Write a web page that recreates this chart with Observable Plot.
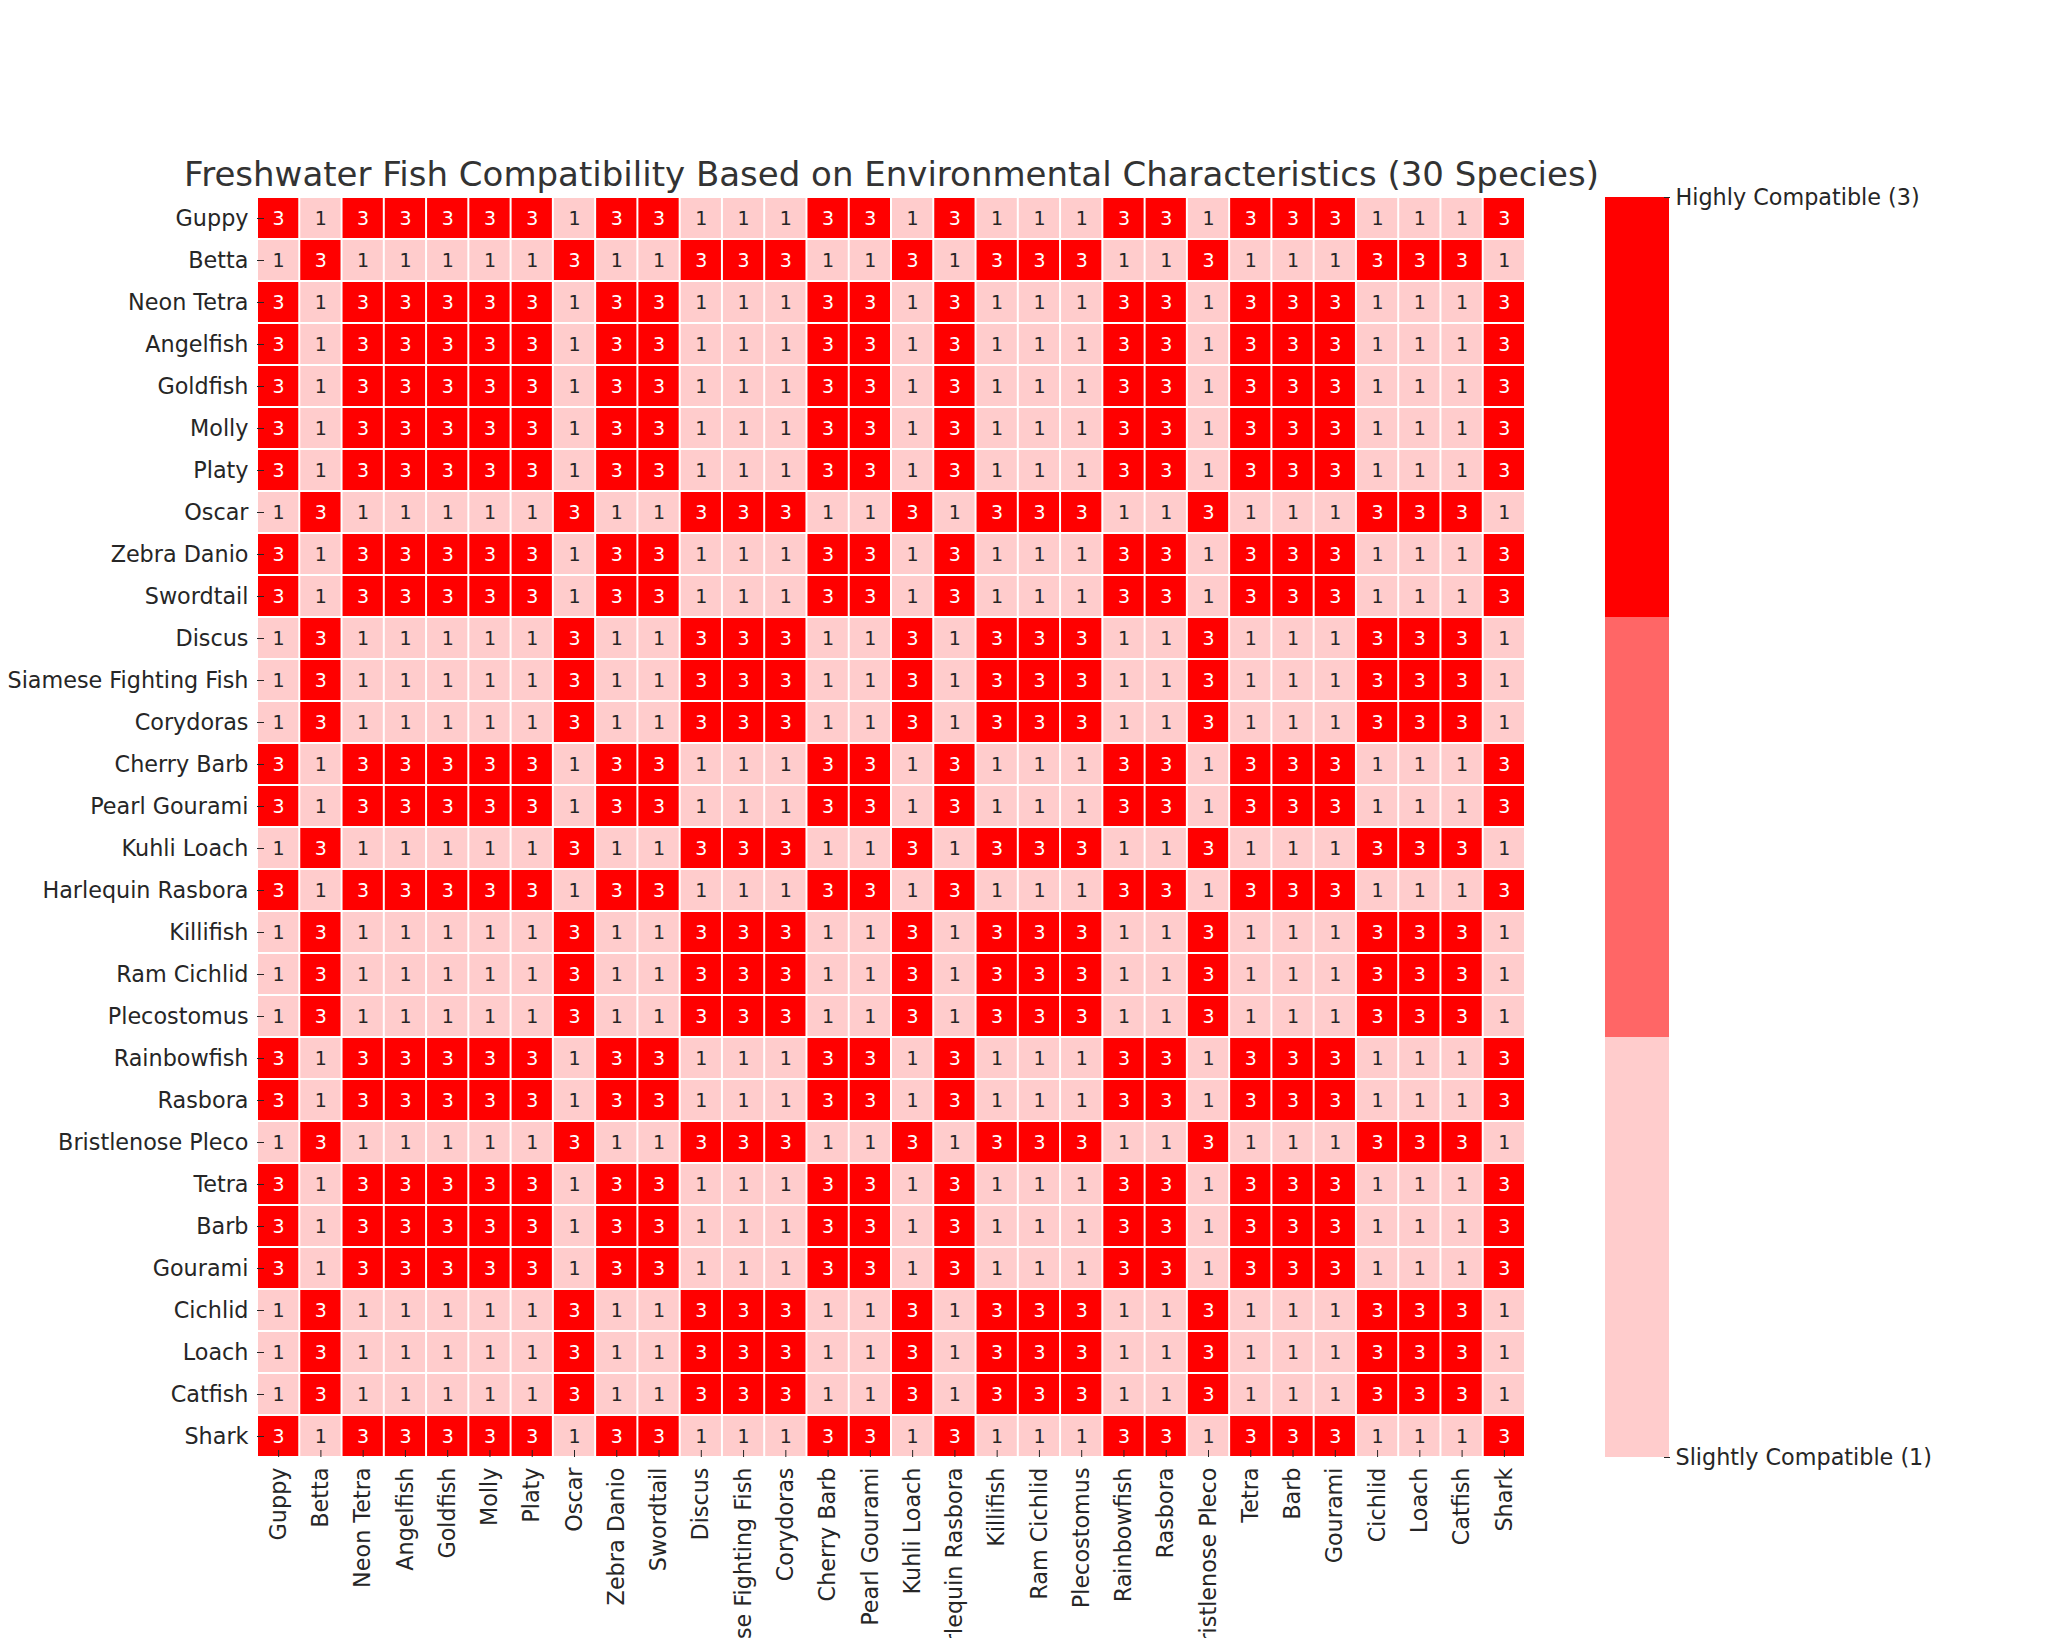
<!DOCTYPE html>
<html>
<head>
<meta charset="utf-8">
<script src="https://cdn.jsdelivr.net/npm/d3@7"></script>
<script src="https://cdn.jsdelivr.net/npm/@observablehq/plot@0.6"></script>
<style>
  html, body { margin: 0; padding: 0; background: #fff; }
  #wrap { position: relative; width: 2048px; height: 1638px; overflow: hidden; }
  #wrap svg { position: absolute; left: 0; top: 0; }
</style>
</head>
<body>
<div id="wrap"></div>
<script>
const titleText = "Freshwater Fish Compatibility Based on Environmental Characteristics (30 Species)";

const species = [
  "Guppy", "Betta", "Neon Tetra", "Angelfish", "Goldfish", "Molly", "Platy", "Oscar",
  "Zebra Danio", "Swordtail", "Discus", "Siamese Fighting Fish", "Corydoras", "Cherry Barb",
  "Pearl Gourami", "Kuhli Loach", "Harlequin Rasbora", "Killifish", "Ram Cichlid", "Plecostomus",
  "Rainbowfish", "Rasbora", "Bristlenose Pleco", "Tetra", "Barb", "Gourami", "Cichlid",
  "Loach", "Catfish", "Shark"
];

// compatibility matrix (rows follow species order)
const compatibility = [
  [3,1,3,3,3,3,3,1,3,3,1,1,1,3,3,1,3,1,1,1,3,3,1,3,3,3,1,1,1,3], // Guppy
  [1,3,1,1,1,1,1,3,1,1,3,3,3,1,1,3,1,3,3,3,1,1,3,1,1,1,3,3,3,1], // Betta
  [3,1,3,3,3,3,3,1,3,3,1,1,1,3,3,1,3,1,1,1,3,3,1,3,3,3,1,1,1,3], // Neon Tetra
  [3,1,3,3,3,3,3,1,3,3,1,1,1,3,3,1,3,1,1,1,3,3,1,3,3,3,1,1,1,3], // Angelfish
  [3,1,3,3,3,3,3,1,3,3,1,1,1,3,3,1,3,1,1,1,3,3,1,3,3,3,1,1,1,3], // Goldfish
  [3,1,3,3,3,3,3,1,3,3,1,1,1,3,3,1,3,1,1,1,3,3,1,3,3,3,1,1,1,3], // Molly
  [3,1,3,3,3,3,3,1,3,3,1,1,1,3,3,1,3,1,1,1,3,3,1,3,3,3,1,1,1,3], // Platy
  [1,3,1,1,1,1,1,3,1,1,3,3,3,1,1,3,1,3,3,3,1,1,3,1,1,1,3,3,3,1], // Oscar
  [3,1,3,3,3,3,3,1,3,3,1,1,1,3,3,1,3,1,1,1,3,3,1,3,3,3,1,1,1,3], // Zebra Danio
  [3,1,3,3,3,3,3,1,3,3,1,1,1,3,3,1,3,1,1,1,3,3,1,3,3,3,1,1,1,3], // Swordtail
  [1,3,1,1,1,1,1,3,1,1,3,3,3,1,1,3,1,3,3,3,1,1,3,1,1,1,3,3,3,1], // Discus
  [1,3,1,1,1,1,1,3,1,1,3,3,3,1,1,3,1,3,3,3,1,1,3,1,1,1,3,3,3,1], // Siamese Fighting Fish
  [1,3,1,1,1,1,1,3,1,1,3,3,3,1,1,3,1,3,3,3,1,1,3,1,1,1,3,3,3,1], // Corydoras
  [3,1,3,3,3,3,3,1,3,3,1,1,1,3,3,1,3,1,1,1,3,3,1,3,3,3,1,1,1,3], // Cherry Barb
  [3,1,3,3,3,3,3,1,3,3,1,1,1,3,3,1,3,1,1,1,3,3,1,3,3,3,1,1,1,3], // Pearl Gourami
  [1,3,1,1,1,1,1,3,1,1,3,3,3,1,1,3,1,3,3,3,1,1,3,1,1,1,3,3,3,1], // Kuhli Loach
  [3,1,3,3,3,3,3,1,3,3,1,1,1,3,3,1,3,1,1,1,3,3,1,3,3,3,1,1,1,3], // Harlequin Rasbora
  [1,3,1,1,1,1,1,3,1,1,3,3,3,1,1,3,1,3,3,3,1,1,3,1,1,1,3,3,3,1], // Killifish
  [1,3,1,1,1,1,1,3,1,1,3,3,3,1,1,3,1,3,3,3,1,1,3,1,1,1,3,3,3,1], // Ram Cichlid
  [1,3,1,1,1,1,1,3,1,1,3,3,3,1,1,3,1,3,3,3,1,1,3,1,1,1,3,3,3,1], // Plecostomus
  [3,1,3,3,3,3,3,1,3,3,1,1,1,3,3,1,3,1,1,1,3,3,1,3,3,3,1,1,1,3], // Rainbowfish
  [3,1,3,3,3,3,3,1,3,3,1,1,1,3,3,1,3,1,1,1,3,3,1,3,3,3,1,1,1,3], // Rasbora
  [1,3,1,1,1,1,1,3,1,1,3,3,3,1,1,3,1,3,3,3,1,1,3,1,1,1,3,3,3,1], // Bristlenose Pleco
  [3,1,3,3,3,3,3,1,3,3,1,1,1,3,3,1,3,1,1,1,3,3,1,3,3,3,1,1,1,3], // Tetra
  [3,1,3,3,3,3,3,1,3,3,1,1,1,3,3,1,3,1,1,1,3,3,1,3,3,3,1,1,1,3], // Barb
  [3,1,3,3,3,3,3,1,3,3,1,1,1,3,3,1,3,1,1,1,3,3,1,3,3,3,1,1,1,3], // Gourami
  [1,3,1,1,1,1,1,3,1,1,3,3,3,1,1,3,1,3,3,3,1,1,3,1,1,1,3,3,3,1], // Cichlid
  [1,3,1,1,1,1,1,3,1,1,3,3,3,1,1,3,1,3,3,3,1,1,3,1,1,1,3,3,3,1], // Loach
  [1,3,1,1,1,1,1,3,1,1,3,3,3,1,1,3,1,3,3,3,1,1,3,1,1,1,3,3,3,1], // Catfish
  [3,1,3,3,3,3,3,1,3,3,1,1,1,3,3,1,3,1,1,1,3,3,1,3,3,3,1,1,1,3]  // Shark
];

const cmapColors = ["#ffcccc", "#ff6666", "#ff0000"];
const cmapEdges = [1, 5/3, 7/3, 3];
const colorbarTicks = [1, 3];
const colorbarLabels = ["Slightly Compatible (1)", "Highly Compatible (3)"];

const cells = [];
compatibility.forEach((row, i) => row.forEach((v, j) => cells.push({row: species[i], col: species[j], value: v})));

const bands = cmapColors.map((c, k) => ({lo: cmapEdges[k], hi: cmapEdges[k + 1], color: c}));

const FONT = "DejaVu Sans, Liberation Sans, sans-serif";
const INK = "#262626";
const TICKFS = 22.3;

const main = Plot.plot({
  width: 2048,
  height: 1638,
  marginLeft: 257,
  marginRight: 523,
  marginTop: 197,
  marginBottom: 181,
  style: {fontFamily: FONT, fontSize: "22px", color: INK, background: "transparent", overflow: "visible"},
  x: {domain: species, padding: 0, round: false, label: null},
  y: {domain: species, padding: 0, round: false, label: null},
  color: {type: "threshold", domain: [5/3, 7/3], range: cmapColors},
  marks: [
    Plot.cell(cells, {x: "col", y: "row", fill: "value", inset: 1}),
    Plot.text(cells, {filter: d => d.value === 3, x: "col", y: "row", text: d => String(d.value), fill: "white", fontSize: 19}),
    Plot.text(cells, {filter: d => d.value !== 3, x: "col", y: "row", text: d => String(d.value), fill: INK, fontSize: 19}),
    Plot.axisX({anchor: "bottom", dy: -7, tickRotate: -90, tickSize: 7, tickPadding: 10, fontSize: TICKFS, label: null, stroke: INK, fill: INK}),
    Plot.axisY({anchor: "left", dx: 7, tickSize: 7, tickPadding: 9, fontSize: TICKFS, label: null, stroke: INK, fill: INK}),
    Plot.text([titleText], {frameAnchor: "top", dy: -12, lineAnchor: "bottom", fontSize: 34, fill: "#333333", text: d => d})
  ]
});

const bar = Plot.plot({
  width: 2048,
  height: 1638,
  marginLeft: 1605,
  marginRight: 379,
  marginTop: 197,
  marginBottom: 181,
  style: {fontFamily: FONT, fontSize: "22px", color: INK, background: "transparent", overflow: "visible"},
  y: {domain: [1, 3], label: null},
  color: {type: "identity"},
  marks: [
    Plot.barY(bands, {y1: "lo", y2: "hi", fill: "color"}),
    Plot.axisY({anchor: "right", dx: -6, ticks: colorbarTicks, tickFormat: d => colorbarLabels[colorbarTicks.indexOf(d)], tickSize: 6, tickPadding: 6, fontSize: TICKFS, label: null, stroke: INK, fill: INK})
  ]
});

const wrap = document.getElementById("wrap");
wrap.appendChild(main);
wrap.appendChild(bar);
</script>
</body>
</html>
